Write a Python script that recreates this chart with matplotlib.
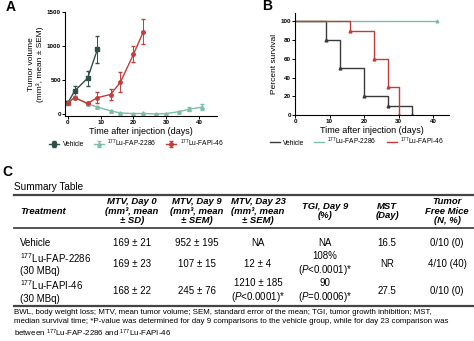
import matplotlib
matplotlib.use('Agg')
import matplotlib.pyplot as plt
from matplotlib.lines import Line2D

plt.rcParams['font.family'] = ['Liberation Sans', 'DejaVu Sans']
plt.rcParams['mathtext.fontset'] = 'custom'
plt.rcParams['mathtext.rm'] = 'Liberation Sans'
plt.rcParams['mathtext.it'] = 'Liberation Sans:italic'
plt.rcParams['mathtext.bf'] = 'Liberation Sans:bold'

# panel A data: tumor volume
veh_days = [0, 2, 6, 9]
veh_vol = [169, 340, 530, 952]
veh_err = [21, 80, 110, 195]
fap_days = [0, 2, 6, 9, 13, 16, 20, 23, 27, 30, 34, 37, 41]
fap_vol = [169, 250, 150, 107, 50, 20, 10, 12, 6, 10, 40, 75, 105]
fap_err = [23, 25, 15, 15, 10, 6, 5, 4, 5, 6, 12, 30, 45]
fapi_days = [0, 2, 6, 9, 13, 16, 20, 23]
fapi_vol = [168, 245, 160, 245, 290, 470, 880, 1210]
fapi_err = [22, 20, 15, 76, 80, 150, 120, 185]

# panel B data: survival
veh_surv_t = [0, 9, 13, 20, 27, 34]
veh_surv = [100, 80, 50, 20, 10, 0]
fap_surv_t = [0, 41]
fap_surv = [100, 100]
fapi_surv_t = [0, 16, 23, 27, 30]
fapi_surv = [100, 90, 60, 30, 0]

labels = ['Vehicle', r'$^{177}$Lu-FAP-2286', r'$^{177}$Lu-FAPI-46']

# table data
col_heads = ['MTV, Day 0\n(mm³, mean\n± SD)', 'MTV, Day 9\n(mm³, mean\n± SEM)',
             'MTV, Day 23\n(mm³, mean\n± SEM)', 'TGI, Day 9\n(%)', 'MST\n(Day)',
             'Tumor\nFree Mice\n(N, %)']
row_names = ['Vehicle', '$^{177}$Lu-FAP-2286\n(30 MBq)', '$^{177}$Lu-FAPI-46\n(30 MBq)']
table_rows = [
    ['169 ± 21', '952 ± 195', 'NA', 'NA', '16.5', '0/10 (0)'],
    ['169 ± 23', '107 ± 15', '12 ± 4', '108%\n($\\it{P}$<0.0001)*', 'NR', '4/10 (40)'],
    ['168 ± 22', '245 ± 76', '1210 ± 185\n($\\it{P}$<0.0001)*', '90\n($\\it{P}$=0.0006)*', '27.5', '0/10 (0)'],
]
footnote = ('BWL, body weight loss; MTV, mean tumor volume; SEM, standard error of the mean; TGI, tumor growth inhibition; MST,\n'
            'median survival time; *P-value was determined for day 9 comparisons to the vehicle group, while for day 23 comparison was\n'
            'between $^{177}$Lu-FAP-2286 and $^{177}$Lu-FAPI-46')

W, H = 474, 341
def fx(x):
    return x / W
def fy(y):
    return 1 - y / H

c_veh = '#2f4f48'
c_fap = '#7dbfa6'
c_fapi = '#c43c3a'
c_veh_b = '#3a3a3a'

fig = plt.figure(figsize=(4.74, 3.41), dpi=100)

def style_ax(ax):
    for s in ['top', 'right']:
        ax.spines[s].set_visible(False)
    for s in ['left', 'bottom']:
        ax.spines[s].set_linewidth(0.8)
    ax.tick_params(labelsize=4.5, width=0.7, length=2, pad=1)
    for t in ax.get_xticklabels() + ax.get_yticklabels():
        t.set_fontweight('bold')

# panel A
axA = fig.add_axes([fx(65), fy(116), fx(217) - fx(65), fy(12) - fy(116)])
axA.errorbar(veh_days, veh_vol, yerr=veh_err, color=c_veh, marker='s', ms=2.5, lw=1, capsize=1.5, elinewidth=0.7, label=labels[0])
axA.errorbar(fap_days, fap_vol, yerr=fap_err, color=c_fap, marker='^', ms=2.5, lw=1, capsize=1.5, elinewidth=0.7, label=labels[1])
axA.errorbar(fapi_days, fapi_vol, yerr=fapi_err, color=c_fapi, marker='o', ms=2.5, lw=1, capsize=1.5, elinewidth=0.7, label=labels[2])
axA.set_xlim(-0.9, 45.5)
axA.set_ylim(-25, 1500)
axA.set_xticks([0, 10, 20, 30, 40])
axA.set_yticks([0, 500, 1000, 1500])
axA.set_xlabel('Time after injection (days)', fontsize=6.5, labelpad=1)
axA.set_ylabel('Tumor volume\n(mm³, mean ± SEM)', fontsize=6, labelpad=2)
style_ax(axA)
axA.legend(loc='center', bbox_to_anchor=(0.47, -0.26), ncol=3, frameon=False, fontsize=4.8,
           handlelength=1.5, columnspacing=1.5, handletextpad=0.5)
fig.text(fx(6), fy(7), 'A', fontsize=10, fontweight='bold', va='center')

# panel B
axB = fig.add_axes([fx(295), fy(115), fx(449) - fx(295), fy(13) - fy(115)])
axB.plot(veh_surv_t, veh_surv, drawstyle='steps-post', color=c_veh_b, lw=1, label=labels[0])
axB.plot(veh_surv_t[1:], veh_surv[1:], ls='none', marker='^', ms=2, color=c_veh_b)
axB.plot(fap_surv_t, fap_surv, drawstyle='steps-post', color=c_fap, lw=1, label=labels[1])
axB.plot(fap_surv_t[1:], fap_surv[1:], ls='none', marker='^', ms=2, color=c_fap)
axB.plot(fapi_surv_t, fapi_surv, drawstyle='steps-post', color=c_fapi, lw=1, label=labels[2])
axB.plot(fapi_surv_t[1:], fapi_surv[1:], ls='none', marker='^', ms=2, color=c_fapi)
axB.set_xlim(0, 44.6)
axB.set_ylim(0, 109)
axB.set_xticks([0, 10, 20, 30, 40])
axB.set_yticks([0, 20, 40, 60, 80, 100])
axB.set_xlabel('Time after injection (days)', fontsize=6.5, labelpad=1)
axB.set_ylabel('Percent survival', fontsize=6, labelpad=2)
style_ax(axB)
axB.legend(loc='center', bbox_to_anchor=(0.4, -0.26), ncol=3, frameon=False, fontsize=4.8,
           handlelength=1.5, columnspacing=1.5, handletextpad=0.5)
fig.text(fx(262), fy(6), 'B', fontsize=10, fontweight='bold', va='center')

# panel C - table
fig.text(fx(2), fy(172), 'C', fontsize=10, fontweight='bold', va='center')
fig.text(fx(14), fy(187), 'Summary Table', fontsize=7.2, va='center')

def hline(y, lw):
    fig.add_artist(Line2D([fx(14), 1.0], [fy(y), fy(y)], color='#444444', lw=lw))

hline(195, 1.6)
hline(228, 1.3)
hline(306, 1.6)

col_x = [132, 197, 258, 325, 387, 447]
fig.text(fx(20), fy(212), 'Treatment', fontsize=6.8, fontweight='bold', style='italic', va='center')
for x, h in zip(col_x, col_heads):
    fig.text(fx(x), fy(211), h, fontsize=6.8, fontweight='bold', style='italic',
             ha='center', va='center', linespacing=1.05)

row_y = [243, 264, 291]
for y, name, vals in zip(row_y, row_names, table_rows):
    fig.text(fx(20), fy(y), name, fontsize=7, va='center', linespacing=1.15)
    for x, v in zip(col_x, vals):
        fig.text(fx(x), fy(y), v, fontsize=7, ha='center', va='center', linespacing=1.15)

fig.text(fx(14), fy(324), footnote, fontsize=5.7, va='center', linespacing=1.35)

fig.savefig('out.png', dpi=100)
